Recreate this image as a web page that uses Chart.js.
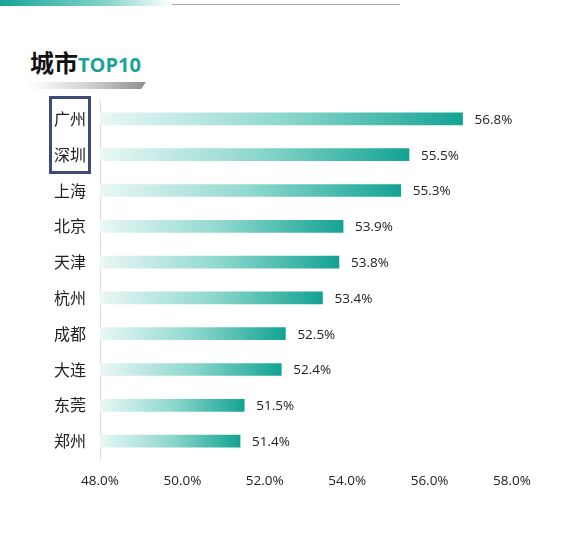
<!DOCTYPE html>
<html>
<head>
<meta charset="utf-8">
<script src="https://cdn.jsdelivr.net/npm/chart.js"></script>
<style>
  html, body { margin: 0; padding: 0; background: #fff; }
  #wrap { position: relative; width: 585px; height: 556px; overflow: hidden; }
  #chart { position: absolute; left: 0; top: 0; }
  .topband { position: absolute; left: 0; top: 0; width: 172px; height: 6px;
    background: linear-gradient(to right, #17a596, #7fd3c9 60%, #ffffff); }
  .topline { position: absolute; left: 172px; top: 4px; width: 228px; height: 1px; background: #a8a8a8; }
  .title { position: absolute; left: 30px; top: 44px; font-weight: bold; white-space: nowrap; }
  .title .cn { font-size: 24px; color: #111; font-family: "Noto Sans CJK SC", sans-serif; }
  .title .en { font-size: 20px; color: #1aa396; font-family: "Open Sans", sans-serif; }
  .underbar { position: absolute; left: 27px; top: 82px; width: 119px; height: 7px;
    background: linear-gradient(to right, #ffffff, #d4d4d4 50%, #8f8f8f);
    clip-path: polygon(0 0, 100% 0, 96% 100%, 0 100%); }
  .box { position: absolute; left: 49px; top: 96px; width: 36px; height: 72px; border: 3px solid #3d4a7c; }
</style>
</head>
<body>
<div id="wrap">
  <div class="topband"></div>
  <div class="topline"></div>
  <div class="title"><span class="cn">城市</span><span class="en">TOP10</span></div>
  <div class="underbar"></div>
  <canvas id="chart" width="585" height="556"></canvas>
  <div class="box"></div>
</div>
<script>
// 데이터
const cities = ['广州', '深圳', '上海', '北京', '天津', '杭州', '成都', '大连', '东莞', '郑州'];
const shares = [56.8, 55.5, 55.3, 53.9, 53.8, 53.4, 52.5, 52.4, 51.5, 51.4];
const xTicks = [48, 50, 52, 54, 56, 58];

// 막대 그라데이션
function barGradient(ctx) {
    const chart = ctx.chart;
    if (!chart.chartArea || ctx.raw == null) return '#5cc5b8';
    const x = chart.scales.x;
    const x0 = x.getPixelForValue(xTicks[0]);
    const x1 = x.getPixelForValue(ctx.raw);
    const g = chart.ctx.createLinearGradient(x0, 0, x1, 0);
    g.addColorStop(0, '#eaf7f5');
    g.addColorStop(0.5, '#8fd8ce');
    g.addColorStop(1, '#13a393');
    return g;
}

// 값 라벨
const valueLabels = {
    id: 'valueLabels',
    afterDatasetsDraw(chart) {
        const ctx = chart.ctx;
        const meta = chart.getDatasetMeta(0);
        ctx.save();
        ctx.font = '13.5px "Open Sans", sans-serif';
        ctx.fillStyle = '#222';
        ctx.textBaseline = 'middle';
        meta.data.forEach((bar, i) => {
            ctx.fillText(shares[i].toFixed(1) + '%', bar.x + 12, bar.y + 1);
        });
        ctx.restore();
    }
};

new Chart(document.getElementById('chart').getContext('2d'), {
    type: 'bar',
    data: {
        labels: cities,
        datasets: [{
            data: shares,
            backgroundColor: barGradient,
            barThickness: 12,
            borderWidth: 0
        }]
    },
    plugins: [valueLabels],
    options: {
        responsive: false,
        animation: false,
        indexAxis: 'y',
        layout: { padding: { left: 0, top: 101, right: 73, bottom: 57 } },
        plugins: { legend: { display: false }, tooltip: { enabled: false } },
        scales: {
            x: {
                min: 48,
                max: 58,
                afterBuildTicks(scale) { scale.ticks = xTicks.map(v => ({ value: v })); },
                afterFit(scale) { scale.height = 40; },
                grid: { display: false },
                border: { display: false },
                ticks: {
                    padding: 6,
                    color: '#222',
                    font: { size: 13.5, family: '"Open Sans", sans-serif' },
                    callback: v => Number(v).toFixed(1) + '%'
                }
            },
            y: {
                afterFit(scale) { scale.width = 100; },
                grid: { display: false, drawTicks: false },
                border: { display: true, color: '#dcdcdc', width: 1 },
                ticks: {
                    padding: 14,
                    color: '#222',
                    font: { size: 16, family: '"Noto Sans CJK SC", sans-serif' }
                }
            }
        }
    }
});
</script>
</body>
</html>
